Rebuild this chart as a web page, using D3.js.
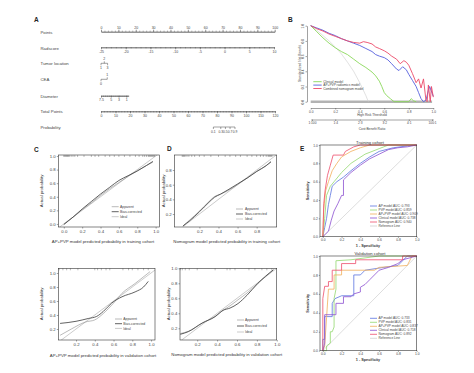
<!DOCTYPE html>
<html>
<head>
<meta charset="utf-8">
<script src="https://cdn.jsdelivr.net/npm/d3@7"></script>
<style>
  body { margin: 0; background: #fff; }
  svg { display: block; font-family: "Liberation Sans", Arial, sans-serif; }
</style>
</head>
<body>
<svg width="474" height="373"></svg>
<script>
// ---- A: nomogram ----
const nomoRows = ["Points", "Radscore", "Tumor location", "CEA", "Diameter", "Total Points", "Probability"];
const pointLabels = [0, 10, 20, 30, 40, 50, 60, 70, 80, 90, 100];
const radLabels = [-25, -20, -15, -10, -5, 0, 5, 10];
const tumorVals = ["1", "2", "3"];
const tumorPts = [0, 1.9, 3.8];
const ceaVals = ["0", "1"];
const ceaPts = [0, 3.6];
const diamLabels = [7.5, 5, 3, 1];
const diamRange = [7.5, 0.5];
const diamPtsRange = [0, 15.7];
const totalLabels = [0, 10, 20, 30, 40, 50, 60, 70, 80, 90, 100, 110, 120];
const probVals = ["0.1", "0.3", "0.5", "0.7", "0.9"];
const probTotal = [77.5, 82.6, 85.8, 89.0, 92.4];

// ---- B: decision curves (threshold, standardized net benefit) ----
const dcaClinical = [[0,1],[0.05,0.92],[0.1,0.84],[0.15,0.77],[0.2,0.71],[0.25,0.66],[0.3,0.62],[0.35,0.56],[0.4,0.5],[0.45,0.45],[0.5,0.39],[0.53,0.34],[0.56,0.27],[0.58,0.2],[0.6,0.12],[0.62,0.08],[0.65,0.04],[0.68,0],[0.8,0],[0.82,0.04],[0.84,0.01],[0.86,0]];
const dcaRadiomics = [[0,1],[0.05,0.97],[0.1,0.94],[0.15,0.9],[0.2,0.87],[0.25,0.83],[0.3,0.8],[0.35,0.77],[0.4,0.74],[0.45,0.7],[0.5,0.66],[0.53,0.62],[0.56,0.6],[0.6,0.58],[0.63,0.55],[0.66,0.5],[0.7,0.43],[0.72,0.41],[0.75,0.46],[0.78,0.42],[0.8,0.36],[0.83,0.28],[0.86,0.2],[0.88,0.12],[0.9,0.04],[0.92,0],[0.94,0.02],[0.96,0.15],[0.97,0.2],[1,0.07]];
const dcaNomogram = [[0,1],[0.05,0.96],[0.1,0.93],[0.15,0.89],[0.2,0.86],[0.25,0.83],[0.3,0.8],[0.35,0.78],[0.4,0.77],[0.43,0.79],[0.46,0.78],[0.5,0.76],[0.53,0.72],[0.56,0.7],[0.6,0.67],[0.63,0.64],[0.66,0.6],[0.7,0.56],[0.73,0.5],[0.76,0.54],[0.78,0.52],[0.8,0.48],[0.83,0.37],[0.86,0.25],[0.88,0.3],[0.9,0.18],[0.92,0.3],[0.94,0.02],[0.95,0],[0.96,0.22],[0.975,0],[0.985,0.2],[1,0.06]];
const dcaAll = [[0,1],[0.05,0.94],[0.1,0.87],[0.15,0.8],[0.2,0.72],[0.25,0.63],[0.3,0.52],[0.35,0.4],[0.4,0.25],[0.45,0.08],[0.47,0]];
const dcaNone = [[0,0],[0.99,0]];
const dcaTicks = [0, 0.2, 0.4, 0.6, 0.8, 1];
const costTicks = [0.01, 0.2, 0.4, 0.6, 0.8, 0.99];
const costLabels = ["1:100", "1:4", "2:3", "3:2", "4:1", "100:1"];
const dcaLegend = ["Clinical model", "AP+PVP radiomics model", "Combined nomogram model"];

// ---- C / D: calibration curves ----
const calTrainApApparent = [[0,0],[0.1,0.1],[0.2,0.21],[0.3,0.31],[0.4,0.42],[0.5,0.52],[0.6,0.61],[0.7,0.7],[0.8,0.78],[0.9,0.86],[0.97,0.91]];
const calTrainApBias = [[0,-0.01],[0.1,0.1],[0.2,0.22],[0.3,0.33],[0.4,0.44],[0.5,0.54],[0.6,0.64],[0.7,0.71],[0.8,0.78],[0.9,0.86],[0.97,0.92]];
const calTrainNomoApparent = [[0.03,0.04],[0.1,0.12],[0.2,0.24],[0.3,0.37],[0.36,0.44],[0.42,0.47],[0.5,0.52],[0.6,0.6],[0.7,0.69],[0.8,0.78],[0.9,0.86],[0.95,0.92]];
const calTrainNomoBias = [[0.03,0.04],[0.1,0.11],[0.2,0.23],[0.3,0.36],[0.36,0.43],[0.42,0.47],[0.5,0.53],[0.6,0.61],[0.7,0.69],[0.8,0.78],[0.9,0.86],[0.95,0.91]];
const calValApApparent = [[0.03,0.11],[0.15,0.2],[0.3,0.3],[0.4,0.33],[0.49,0.42],[0.6,0.57],[0.69,0.71],[0.83,0.85],[0.99,1.02]];
const calValApBias = [[0.03,0.28],[0.2,0.31],[0.33,0.35],[0.42,0.38],[0.49,0.45],[0.58,0.57],[0.69,0.66],[0.83,0.73],[0.92,0.8],[0.97,0.88]];
const calValNomoApparent = [[0.03,0.13],[0.11,0.16],[0.25,0.27],[0.38,0.36],[0.46,0.44],[0.53,0.5],[0.61,0.58],[0.7,0.67],[0.81,0.8],[0.965,0.98]];
const calValNomoBias = [[0.03,0.12],[0.11,0.155],[0.25,0.27],[0.38,0.355],[0.46,0.44],[0.53,0.47],[0.61,0.53],[0.7,0.64],[0.81,0.8],[0.965,0.98]];
const rugTrainAp = [0,0.01,0.02,0.03,0.04,0.05,0.06,0.08,0.1,0.12,0.15,0.22,0.3,0.34,0.38,0.45,0.5,0.55,0.6,0.66,0.72,0.78,0.82,0.86,0.88,0.9,0.92,0.93,0.94,0.95,0.96,0.97,0.98,0.99];
const rugTrainNomo = [0.02,0.03,0.04,0.05,0.07,0.09,0.12,0.15,0.2,0.25,0.32,0.4,0.47,0.52,0.58,0.63,0.7,0.75,0.8,0.84,0.87,0.9,0.92,0.93,0.94,0.95,0.96];
const rugValAp = [0.02,0.06,0.1,0.14,0.22,0.4,0.43,0.47,0.52,0.56,0.7,0.76,0.8,0.86,0.92,0.97];
const rugValNomo = [0.03,0.05,0.08,0.12,0.2,0.38,0.5,0.53,0.58,0.72,0.78,0.85,0.9,0.95];
const calLegend = ["Apparent", "Bias-corrected", "Ideal"];

// ---- E: ROC curves (1 - specificity, sensitivity) ----
const rocLegendTrain = ["AP model AUC: 0.793", "PVP model AUC: 0.859", "AP+PVP model AUC: 0.909", "Clinical model AUC: 0.738", "Nomogram AUC: 0.940", "Reference Line"];
const rocLegendVal = ["AP model AUC: 0.733", "PVP model AUC: 0.831", "AP+PVP model AUC: 0.837", "Clinical model AUC: 0.718", "Nomogram AUC: 0.892", "Reference Line"];
const rocTrainAp = [[0,0],[0.02,0.1],[0.04,0.2],[0.06,0.35],[0.08,0.45],[0.1,0.55],[0.13,0.58],[0.15,0.6],[0.22,0.65],[0.3,0.72],[0.35,0.76],[0.4,0.8],[0.5,0.87],[0.6,0.93],[0.75,0.97],[0.9,0.99],[1,1]];
const rocTrainPvp = [[0,0],[0.02,0.2],[0.04,0.45],[0.08,0.55],[0.12,0.6],[0.2,0.7],[0.3,0.8],[0.45,0.9],[0.6,0.96],[0.7,1],[1,1]];
const rocTrainApPvp = [[0,0],[0.01,0.3],[0.03,0.5],[0.06,0.6],[0.1,0.72],[0.15,0.8],[0.2,0.87],[0.3,0.93],[0.4,0.97],[0.5,1],[1,1]];
const rocTrainClin = [[0,0],[0.03,0.03],[0.06,0.06],[0.09,0.18],[0.12,0.28],[0.16,0.36],[0.2,0.45],[0.22,0.45],[0.22,0.62],[0.3,0.7],[0.4,0.78],[0.5,0.85],[0.6,0.9],[0.7,0.95],[0.8,0.97],[0.9,0.98],[1,1]];
const rocTrainNomo = [[0,0],[0.01,0.36],[0.025,0.51],[0.05,0.67],[0.08,0.78],[0.11,0.89],[0.22,0.89],[0.24,0.93],[0.33,0.98],[0.4,1],[1,1]];
const rocValAp = [[0,0],[0,0.12],[0.02,0.12],[0.02,0.36],[0.1,0.36],[0.1,0.5],[0.13,0.55],[0.2,0.58],[0.33,0.58],[0.33,0.8],[0.4,0.8],[0.45,0.85],[0.65,0.88],[0.8,0.9],[0.85,0.95],[0.9,1],[1,1]];
const rocValPvp = [[0,0],[0.04,0],[0.04,0.05],[0.08,0.08],[0.08,0.2],[0.1,0.2],[0.12,0.25],[0.12,0.55],[0.14,0.65],[0.14,0.95],[0.3,0.96],[0.6,1],[1,1]];
const rocValApPvp = [[0,0],[0.02,0.05],[0.04,0.35],[0.06,0.65],[0.12,0.65],[0.12,0.8],[0.2,0.8],[0.2,0.85],[0.55,0.85],[0.6,0.88],[0.9,0.9],[0.95,1],[1,1]];
const rocValClin = [[0,0],[0.02,0.08],[0.02,0.38],[0.14,0.38],[0.14,0.5],[0.22,0.5],[0.22,0.57],[0.3,0.57],[0.33,0.6],[0.4,0.62],[0.4,0.67],[0.45,0.7],[0.5,0.75],[0.55,0.8],[0.6,0.85],[0.7,0.88],[0.8,0.92],[0.85,0.96],[1,1]];
const rocValNomo = [[0,0],[0,0.55],[0.02,0.68],[0.06,0.68],[0.06,0.73],[0.1,0.73],[0.1,0.85],[0.2,0.85],[0.2,0.92],[0.35,0.92],[0.35,0.96],[0.85,0.96],[0.85,1],[1,1]];
const rocTicks = [0, 0.2, 0.4, 0.6, 0.8, 1];
const rocColors = ["#5a73e0", "#93d86e", "#f1ae5a", "#8b4fd0", "#ee4d6b", "#cfcfcf"];

const svg = d3.select("svg");
const ink = "#444";

function styleAxis(g, fs) {
  g.attr("font-size", fs).attr("font-family", null);
  g.selectAll("path, line").attr("stroke", ink).attr("stroke-width", 0.5);
  g.selectAll("text").attr("fill", ink);
}

function panelLetter(t, x, y) {
  svg.append("text").attr("x", x).attr("y", y).attr("font-size", 6.5)
    .attr("font-weight", "bold").attr("fill", "#222").text(t);
}

// ================= A =================
panelLetter("A", 34, 22);
const pts = d3.scaleLinear([0, 100], [101, 274.7]);
const rad = d3.scaleLinear([-25, 10], [101, 274]);
const tot = d3.scaleLinear([0, 120], [101, 275]);
const diam = d3.scaleLinear(diamRange, diamPtsRange.map(pts));
const rowY = [31.7, 47.3, 63.3, 79.3, 95.7, 111.3, 127];

svg.append("g").selectAll("text").data(nomoRows).join("text")
  .attr("x", 40.5).attr("y", (d, i) => [33.5, 49.5, 65, 81, 97.5, 113, 128.5][i])
  .attr("font-size", 4.3).attr("fill", ink).text(d => d);

function nomoAxis(axisFn, scale, y, major, minor, fmt) {
  const g = svg.append("g").attr("transform", `translate(0,${y})`);
  g.call(axisFn(scale).tickValues(minor).tickFormat("").tickSize(1).tickSizeOuter(0));
  const g2 = svg.append("g").attr("transform", `translate(0,${y})`);
  g2.call(axisFn(scale).tickValues(major).tickFormat(fmt || (d => d)).tickSize(2).tickSizeOuter(0).tickPadding(1));
  styleAxis(g, 3.5); styleAxis(g2, 3.5);
}
nomoAxis(d3.axisTop, pts, rowY[0], pointLabels, d3.range(0, 101, 2));
nomoAxis(d3.axisBottom, rad, rowY[1], radLabels, d3.range(-25, 11, 1));
nomoAxis(d3.axisBottom, tot, rowY[5], totalLabels, d3.range(0, 121, 2));
nomoAxis(d3.axisBottom, diam, rowY[4], diamLabels, d3.range(0.5, 7.6, 0.5));

// categorical rows
function catRow(vals, p, y, upIdx) {
  const g = svg.append("g");
  g.append("line").attr("x1", pts(d3.min(p))).attr("x2", pts(d3.max(p)))
    .attr("y1", y).attr("y2", y).attr("stroke", ink).attr("stroke-width", 0.5);
  vals.forEach((v, i) => {
    const up = upIdx.includes(i);
    const x = pts(p[i]);
    g.append("line").attr("x1", x).attr("x2", x).attr("y1", y).attr("y2", up ? y - 2 : y + 2)
      .attr("stroke", ink).attr("stroke-width", 0.5);
    g.append("text").attr("x", x).attr("y", up ? y - 3 : y + 5.2).attr("text-anchor", "middle")
      .attr("font-size", 3.5).attr("fill", ink).text(v);
  });
}
catRow(tumorVals, tumorPts, rowY[2], [1]);
catRow(ceaVals, ceaPts, rowY[3], [1]);

// probability row
{
  const g = svg.append("g");
  const xs = probTotal.map(tot);
  g.append("line").attr("x1", d3.min(xs)).attr("x2", d3.max(xs)).attr("y1", rowY[6]).attr("y2", rowY[6])
    .attr("stroke", ink).attr("stroke-width", 0.5);
  g.selectAll(".pt").data(probVals).join("line")
    .attr("x1", (d, i) => xs[i]).attr("x2", (d, i) => xs[i])
    .attr("y1", rowY[6]).attr("y2", rowY[6] + 2).attr("stroke", ink).attr("stroke-width", 0.5);
  g.selectAll("text").data(probVals).join("text")
    .attr("x", (d, i) => xs[i]).attr("y", rowY[6] + 6).attr("text-anchor", "middle")
    .attr("font-size", 3.3).attr("fill", ink).text(d => d);
}

// ================= B =================
panelLetter("B", 288, 22);
const bx = d3.scaleLinear([0, 1], [310.7, 433.3]);
const by = d3.scaleLinear([0, 1], [101.7, 25.7]);
const bLine = d3.line().x(d => bx(d[0])).y(d => by(d[1]));
svg.append("path").attr("d", bLine(dcaNone)).attr("fill", "none").attr("stroke", "#b3b3b3").attr("stroke-width", 2.6);
svg.append("path").attr("d", bLine(dcaAll)).attr("fill", "none").attr("stroke", "#cccccc").attr("stroke-width", 0.6);
const dcaColors = ["#8ad85a", "#5660de", "#ec4a69"];
[dcaClinical, dcaRadiomics, dcaNomogram].forEach((d, i) => {
  svg.append("path").attr("d", bLine(d)).attr("fill", "none").attr("stroke", dcaColors[i]).attr("stroke-width", 0.9);
});
{
  const gy = svg.append("g").attr("transform", "translate(307,0)")
    .call(d3.axisLeft(by).tickValues(dcaTicks).tickFormat(d3.format(".1f")).tickSize(1.5).tickPadding(1).tickSizeOuter(0));
  styleAxis(gy, 3.2);
  gy.selectAll("text").attr("transform", "rotate(-90)").attr("text-anchor", "middle")
    .attr("x", 0).attr("dy", 0).attr("y", -3);
  gy.selectAll(".tick text").each(function () {
    const t = d3.select(this.parentNode).attr("transform");
  });
  const gx = svg.append("g").attr("transform", "translate(0,108)")
    .call(d3.axisBottom(bx).tickValues(dcaTicks).tickFormat(d3.format(".1f")).tickSize(1.5).tickPadding(1).tickSizeOuter(0));
  styleAxis(gx, 3.2);
  const gc = svg.append("g").attr("transform", "translate(0,119.5)")
    .call(d3.axisBottom(bx).tickValues(costTicks).tickFormat((d, i) => costLabels[i]).tickSize(1.5).tickPadding(1).tickSizeOuter(0));
  styleAxis(gc, 3.2);
  svg.append("text").attr("x", 372).attr("y", 116.3).attr("text-anchor", "middle").attr("font-size", 3.3).attr("fill", ink).text("High Risk Threshold");
  svg.append("text").attr("x", 372).attr("y", 129.8).attr("text-anchor", "middle").attr("font-size", 3.3).attr("fill", ink).text("Cost:Benefit Ratio");
  svg.append("text").attr("transform", "translate(300.5,63.7) rotate(-90)").attr("text-anchor", "middle")
    .attr("font-size", 3.3).attr("fill", ink).text("Standardized Net Benefit");
  const lg = svg.append("g");
  dcaLegend.forEach((t, i) => {
    const y = 81.7 + i * 3.4;
    lg.append("line").attr("x1", 313.3).attr("x2", 321.7).attr("y1", y).attr("y2", y).attr("stroke", dcaColors[i]).attr("stroke-width", 0.9);
    lg.append("text").attr("x", 323.3).attr("y", y + 1.2).attr("font-size", 3.2).attr("fill", ink).text(t);
  });
}

// ================= C / D =================
function calib(cfg) {
  const [x0, x1] = cfg.bx, [y0, y1] = cfg.by;
  const x = d3.scaleLinear(cfg.xd, [x0, x1]);
  const y = d3.scaleLinear(cfg.yd, [y1, y0]);
  const g = svg.append("g");
  const cid = "clip" + Math.round(x0) + Math.round(y0);
  g.append("clipPath").attr("id", cid).append("rect").attr("x", x0).attr("y", y0).attr("width", x1 - x0).attr("height", y1 - y0);
  const line = d3.line().x(d => x(d[0])).y(d => y(d[1])).curve(d3.curveMonotoneX);
  const pg = g.append("g").attr("clip-path", `url(#${cid})`);
  pg.append("path").attr("d", d3.line().x(d => x(d[0])).y(d => y(d[1]))([[cfg.xd[0], cfg.xd[0]], [cfg.xd[1], cfg.xd[1]]]))
    .attr("fill", "none").attr("stroke", "#b5b5b5").attr("stroke-width", 0.7);
  pg.append("path").attr("d", line(cfg.apparent)).attr("fill", "none").attr("stroke", "#8c8c8c").attr("stroke-width", 0.6);
  pg.append("path").attr("d", line(cfg.bias)).attr("fill", "none").attr("stroke", "#3a3a3a").attr("stroke-width", 0.8);
  g.selectAll(".rug").data(cfg.rug).join("line")
    .attr("x1", d => x(d)).attr("x2", d => x(d)).attr("y1", y0).attr("y2", y0 + 2)
    .attr("stroke", "#555").attr("stroke-width", 0.4);
  g.append("rect").attr("x", x0).attr("y", y0).attr("width", x1 - x0).attr("height", y1 - y0)
    .attr("fill", "none").attr("stroke", "#333").attr("stroke-width", 0.6);
  const gx = g.append("g").attr("transform", `translate(0,${y1})`)
    .call(d3.axisBottom(x).tickValues(cfg.xt).tickFormat(d3.format(".1f")).tickSize(1.5).tickPadding(1.2).tickSizeOuter(0));
  styleAxis(gx, 4.3); gx.select(".domain").remove();
  const gy = g.append("g").attr("transform", `translate(${x0},0)`)
    .call(d3.axisLeft(y).tickValues(cfg.yt).tickFormat(d3.format(".1f")).tickSize(1.5).tickPadding(1.2).tickSizeOuter(0));
  styleAxis(gy, 4.3); gy.select(".domain").remove();
  g.append("text").attr("x", cfg.xl[0]).attr("y", cfg.xl[1]).attr("text-anchor", "middle")
    .attr("font-size", 4.3).attr("fill", "#333").text(cfg.xlabel);
  g.append("text").attr("transform", `translate(${cfg.yl[0]},${cfg.yl[1]}) rotate(-90)`).attr("text-anchor", "middle")
    .attr("font-size", 4.3).attr("fill", "#333").text("Actual probability");
  const styles = [["#8c8c8c", 0.6], ["#3a3a3a", 0.8], ["#b5b5b5", 0.7]];
  calLegend.forEach((t, i) => {
    const ly = cfg.lg[1] + i * cfg.lg[3];
    g.append("line").attr("x1", cfg.lg[0]).attr("x2", cfg.lg[0] + 7).attr("y1", ly).attr("y2", ly)
      .attr("stroke", styles[i][0]).attr("stroke-width", styles[i][1]);
    g.append("text").attr("x", cfg.lg[2]).attr("y", ly + 1.2).attr("font-size", 3.4).attr("fill", ink).text(t);
  });
}

panelLetter("C", 34, 152);
panelLetter("D", 167, 151);
calib({ bx: [58.3, 159.3], by: [155, 227], xd: [-0.06, 1.04], yd: [-0.045, 1.015],
  xt: [0, 0.2, 0.4, 0.6, 0.8, 1], yt: [0, 0.2, 0.4, 0.6, 0.8, 1],
  apparent: calTrainApApparent, bias: calTrainApBias, rug: rugTrainAp,
  xlabel: "AP+PVP model predicted probability in training cohort", xl: [103, 243], yl: [42.5, 191],
  lg: [111.7, 206.7, 120, 5] });
calib({ bx: [174.3, 276.7], by: [155, 227], xd: [-0.063, 1.01], yd: [0.023, 1.005],
  xt: [0.2, 0.4, 0.6, 0.8], yt: [0.2, 0.4, 0.6, 0.8],
  apparent: calTrainNomoApparent, bias: calTrainNomoBias, rug: rugTrainNomo,
  xlabel: "Nomogram model predicted probability in training cohort", xl: [226.7, 243], yl: [164.5, 191],
  lg: [236, 209, 245, 5] });
calib({ bx: [58.3, 155], by: [268.3, 340], xd: [0.011, 1.042], yd: [0.043, 1.067],
  xt: [0.2, 0.4, 0.6, 0.8, 1], yt: [0.2, 0.4, 0.6, 0.8, 1],
  apparent: calValApApparent, bias: calValApBias, rug: rugValAp,
  xlabel: "AP+PVP model predicted probability in validation cohort", xl: [103, 356.5], yl: [42.5, 304],
  lg: [115, 319, 123.3, 4.7] });
calib({ bx: [180, 276.7], by: [268.3, 340], xd: [0.027, 0.999], yd: [0.044, 1.0],
  xt: [0.2, 0.4, 0.6, 0.8, 1], yt: [0.2, 0.4, 0.6, 0.8, 1],
  apparent: calValNomoApparent, bias: calValNomoBias, rug: rugValNomo,
  xlabel: "Nomogram model predicted probability in validation cohort", xl: [226.7, 356], yl: [169.5, 304],
  lg: [237, 320, 245, 6] });

// ================= E =================
panelLetter("E", 300, 151);
function roc(cfg) {
  const x = d3.scaleLinear([-0.03, 1], [320, 416.7]);
  const y = d3.scaleLinear([0, 1], [cfg.by[1], cfg.by[0]]);
  const g = svg.append("g");
  const line = d3.line().x(d => x(d[0])).y(d => y(d[1]));
  g.append("path").attr("d", line([[0, 0], [1, 1]])).attr("fill", "none").attr("stroke", rocColors[5]).attr("stroke-width", 0.7);
  [cfg.ap, cfg.pvp, cfg.appvp, cfg.clin, cfg.nomo].forEach((d, i) => {
    g.append("path").attr("d", line(d)).attr("fill", "none").attr("stroke", rocColors[i]).attr("stroke-width", 0.8);
  });
  g.append("rect").attr("x", 320).attr("y", cfg.by[0]).attr("width", 96.7).attr("height", cfg.by[1] - cfg.by[0])
    .attr("fill", "none").attr("stroke", "#333").attr("stroke-width", 0.6);
  const gx = g.append("g").attr("transform", `translate(0,${cfg.by[1]})`)
    .call(d3.axisBottom(x).tickValues(rocTicks).tickFormat(d3.format(".1f")).tickSize(1.2).tickPadding(1).tickSizeOuter(0));
  styleAxis(gx, 3.3); gx.select(".domain").remove();
  const gy = g.append("g").attr("transform", "translate(320,0)")
    .call(d3.axisLeft(y).tickValues(rocTicks).tickFormat(d3.format(".1f")).tickSize(1.2).tickPadding(1).tickSizeOuter(0));
  styleAxis(gy, 3.3); gy.select(".domain").remove();
  g.append("text").attr("x", 370).attr("y", cfg.by[0] - 1.2).attr("text-anchor", "middle")
    .attr("font-size", 4.2).attr("fill", "#333").text(cfg.title);
  g.append("text").attr("x", 368).attr("y", cfg.by[1] + 10.5).attr("text-anchor", "middle")
    .attr("font-size", 3.8).attr("font-weight", "bold").attr("fill", "#333").text("1 - Specificity");
  g.append("text").attr("transform", `translate(309,${(cfg.by[0] + cfg.by[1]) / 2}) rotate(-90)`).attr("text-anchor", "middle")
    .attr("font-size", 3.8).attr("font-weight", "bold").attr("fill", "#333").text("Sensitivity");
  cfg.legend.forEach((t, i) => {
    const ly = cfg.ly + i * 4;
    g.append("line").attr("x1", 370).attr("x2", 377).attr("y1", ly).attr("y2", ly).attr("stroke", rocColors[i]).attr("stroke-width", 0.8);
    g.append("text").attr("x", 378.5).attr("y", ly + 1.1).attr("font-size", 3.2).attr("fill", ink).text(t);
  });
}
roc({ by: [145, 236.7], title: "Training cohort", legend: rocLegendTrain, ly: 206,
  ap: rocTrainAp, pvp: rocTrainPvp, appvp: rocTrainApPvp, clin: rocTrainClin, nomo: rocTrainNomo });
roc({ by: [256, 350.7], title: "Validation cohort", legend: rocLegendVal, ly: 318.3,
  ap: rocValAp, pvp: rocValPvp, appvp: rocValApPvp, clin: rocValClin, nomo: rocValNomo });
</script>
</body>
</html>
